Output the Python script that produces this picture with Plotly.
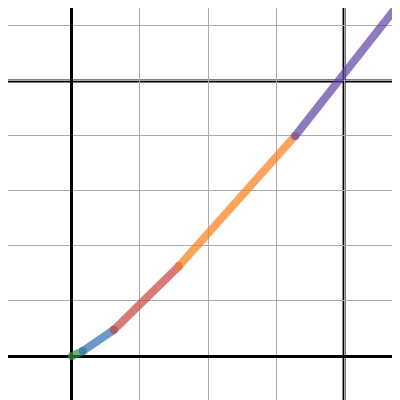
import plotly.graph_objects as go

# piecewise segments (x, y) endpoints
seg_x = [[0.0, 0.04], [0.04, 0.154], [0.154, 0.393], [0.393, 0.82], [0.82, 1.19]]
seg_y = [[0.0, 0.018], [0.018, 0.095], [0.095, 0.327], [0.327, 0.80], [0.80, 1.265]]
colors = ["#388c46", "#2d70b3", "#c74440", "#fa7e19", "#6042a6"]

fig = go.Figure()
for xs, ys, c in zip(seg_x, seg_y, colors):
    fig.add_trace(go.Scatter(x=xs, y=ys, mode="lines+markers", line=dict(color=c, width=8),
                             marker=dict(color=c, size=8), opacity=0.7,
                             showlegend=False, hoverinfo="skip", cliponaxis=True))

fig.add_vline(x=1, line=dict(color="black", width=3), layer="below")
fig.add_hline(y=1, line=dict(color="black", width=3), layer="below")

fig.update_xaxes(range=[-0.235, 1.235], dtick=0.25, tick0=0, showgrid=True,
                 gridcolor="#aaaaaa", gridwidth=1, zeroline=True, zerolinecolor="black",
                 zerolinewidth=3, showticklabels=False, ticks="", automargin=False)
fig.update_yaxes(range=[-0.189, 1.265], dtick=0.2, tick0=0, showgrid=True,
                 gridcolor="#aaaaaa", gridwidth=1, zeroline=True, zerolinecolor="black",
                 zerolinewidth=3, showticklabels=False, ticks="", automargin=False)
fig.update_layout(width=400, height=400,
                  margin=dict(l=0, r=0, t=0, b=0, pad=0, autoexpand=False),
                  plot_bgcolor="white", paper_bgcolor="white")
fig.write_html("out.html")
